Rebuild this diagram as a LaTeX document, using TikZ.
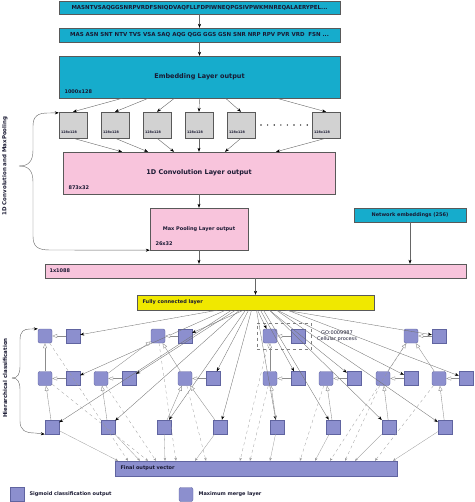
\documentclass[tikz,border=0pt]{standalone}
\usepackage{fontspec}
\setmainfont{DejaVu Sans}
\usetikzlibrary{arrows.meta,fit}

\definecolor{cyanbox}{RGB}{22,172,204}
\definecolor{pinkbox}{RGB}{248,196,220}
\definecolor{greybox}{RGB}{210,210,210}
\definecolor{fcyellow}{RGB}{240,232,0}
\definecolor{gonode}{RGB}{140,143,206}
\definecolor{goline}{RGB}{96,100,160}
\definecolor{txt}{RGB}{25,25,50}

\tikzset{
  lay/.style={draw=gray!70!black, inner sep=1pt, text=txt,
    font=\bfseries\fontsize{6.5}{7}\selectfont},
  small/.style={font=\bfseries\fontsize{5}{6}\selectfont, text=txt},
  seqtext/.style={font=\bfseries\fontsize{5.5}{6}\selectfont},
  kern/.style={draw=gray!70!black, fill=greybox, minimum width=28pt, minimum height=26pt, inner sep=0pt},
  sig/.style={draw=goline, fill=gonode, minimum size=14pt, inner sep=0pt},
  mrg/.style={sig, rounded corners=2pt},
  conn/.style={draw=black!60, line width=0.4pt, -{Stealth[length=4pt,width=3pt,color=black]}},
  fan/.style={draw=black!55, line width=0.35pt, -{Stealth[length=4pt,width=3pt,color=black]}},
  hollow/.style={draw=black!45, line width=0.35pt, -{Triangle[length=5pt,width=4pt,fill=white]}},
  toout/.style={draw=black!40, line width=0.3pt, -{Stealth[length=3pt,width=2.5pt]}},
}

\begin{document}
\begin{tikzpicture}[x=1pt,y=-1pt]
\useasboundingbox (0,0) rectangle (474,502);

%% input and embedding
\node[lay, seqtext, fill=cyanbox, minimum width=281pt, minimum height=13pt] (seq) at (199.5,7.5)
  {MASNTVSAQGGSNRPVRDFSNIQDVAQFLLFDPIWNEQPGSIVPWKMNREQALAERYPEL...};
\node[lay, seqtext, fill=cyanbox, minimum width=281pt, minimum height=14pt] (cod) at (199.5,35)
  {MAS ASN SNT NTV TVS VSA SAQ AQG QGG GGS GSN SNR NRP RPV PVR VRD\ \ FSN ...};
\node[lay, fill=cyanbox, minimum width=281pt, minimum height=42pt] (emb) at (199.5,77)
  {Embedding Layer output};
\node[small, anchor=west] at (61,92) {1000x128};
\draw[conn] (seq) -- (cod);
\draw[conn] (cod) -- (emb);

%% kernels
\foreach \k/\x in {1/73,2/115,3/157,4/199,5/241,6/326}
  \node[kern] (k\k) at (\x,125) {};
\foreach \k in {1,...,6}
  \node[font=\bfseries\fontsize{3.3}{3.5}\selectfont, text=txt, anchor=south west, inner sep=1pt]
    at ([xshift=1pt,yshift=3pt]k\k.south west) {128x128};
\foreach \i in {0,...,7}
  \fill[black!80] (261+\i*6.6,125) circle (0.8pt);
\foreach \k/\s in {1/-77,2/-51,3/-25,4/0,5/26,6/77}
  \draw[conn] ([xshift=\s pt]emb.south) -- (k\k.north);

%% convolution and pooling
\node[lay, fill=pinkbox, minimum width=272pt, minimum height=42pt] (conv) at (199,173)
  {1D Convolution Layer output};
\node[small, anchor=west] at (65,188) {873x32};
\foreach \k/\s in {1/-77,2/-51,3/-25,4/0,5/26,6/77}
  \draw[conn] (k\k.south) -- ([xshift=\s pt]conv.north);
\node[lay, fill=pinkbox, minimum width=98pt, minimum height=42pt, font=\bfseries\fontsize{5}{6}\selectfont] (pool) at (199,229)
  {Max Pooling Layer output};
\node[small, anchor=west] at (152,244) {26x32};
\node[lay, fill=cyanbox, minimum width=112pt, minimum height=14pt, font=\bfseries\fontsize{5}{6}\selectfont] (net) at (410,215)
  {Network embeddings (256)};
\node[lay, fill=pinkbox, minimum width=421pt, minimum height=14pt] (cat) at (255.5,271) {};
\node[small, anchor=west] at (46,271) {1x1088};
\node[lay, fill=fcyellow, minimum width=237pt, minimum height=15pt] (fc) at (255.5,302.5) {};
\node[small, anchor=west] at (139,302.5) {Fully connected layer};
\draw[conn] (conv) -- (pool);
\draw[conn] (pool.south) -- (pool.south |- cat.north);
\draw[conn] (net) -- (net.south |- cat.north);
\draw[conn] (cat.south -| fc.north) -- (fc);

%% left brace: convolution
\node[rotate=90, small, font=\bfseries\fontsize{5.5}{6}\selectfont] (lab1) at (5,166) {1D Convolution and MaxPooling};
\coordinate (b1) at (19,166);
\draw[conn] (b1) .. controls (28,166) and (33,162) .. (33,150) -- (33,126)
  .. controls (33,116) and (38,113) .. (48,113) -- ([yshift=-1pt]k1.north west);
\draw[conn] (b1) .. controls (28,166) and (33,170) .. (33,182) -- (33,236)
  .. controls (33,247) and (38,250) .. (50,250) -- (pool.south west);

%% hierarchy
\foreach \n/\x in {M1a/45,M1b/158,M1c/270,M1d/411}
  \node[mrg] (\n) at (\x,336) {};
\foreach \n/\x in {S1a/73,S1b/185,S1c/298,S1d/439}
  \node[sig] (\n) at (\x,336) {};
\foreach \n/\x in {M2a/45,M2b/101,M2c/185,M2d/270,M2e/326,M2f/383,M2g/439}
  \node[mrg] (\n) at (\x,378.5) {};
\foreach \n/\x in {S2a/73,S2b/129,S2c/213,S2d/298,S2e/354,S2f/411,S2g/466}
  \node[sig] (\n) at (\x,378.5) {};
\foreach \n/\x in {S3a/52,S3b/108,S3c/164,S3d/220,S3e/277,S3f/333,S3g/389,S3h/445}
  \node[sig] (\n) at (\x,427) {};
\node[fit=(M1c)(S1c), inner sep=6pt, draw=black!50, dashed, line width=0.3pt] (gobox) {};
\node[font=\fontsize{5}{5.5}\selectfont, align=center, text=txt] (golab) at (337,336) {GO:0009987\\Cellular process};

\node[sig, minimum width=282pt, minimum height=15pt] (out) at (256,468.5) {};
\node[small, anchor=west] at (117,468.5) {Final output vector};

% fully connected layer to sigmoid outputs
\foreach \t/\s in {S1a/-38,S1b/-12,M1c/2,S1d/30,S2a/-30,S2b/-20,S2c/-7,S2d/5,S2e/14,S2f/22,S2g/32,
                   S3a/-24,S3b/-16,S3c/-10,S3d/-4,S3e/1,S3f/8,S3g/14,S3h/21}
  \draw[fan] ([xshift=\s pt]fc.south) -- (\t);

% sigmoid to maximum merge
\foreach \a/\b in {S1a/M1a,S1b/M1b,S1c/M1c,S1d/M1d,S2a/M2a,S2b/M2b,S2c/M2c,S2d/M2d,S2e/M2e,S2f/M2f,S2g/M2g}
  \draw[hollow] (\a) -- (\b);
\foreach \a/\b in {M2a/M1a,M2b/M1b,M2c/M1b,M2d/M1c,M2f/M1d,M2g/M1d,
                   S3a/M2a,S3b/M2b,S3c/M2c,S3d/M2c,S3e/M2d,S3f/M2e,S3g/M2f,S3h/M2g}
  \draw[hollow] (\a) -- (\b);

% everything to the output vector
\foreach \a/\s in {S3a/-138,S3b/-116,S3c/-91,S3d/-61,S3e/14,S3f/59,S3g/99,S3h/137}
  \draw[toout] (\a) -- ([xshift=\s pt]out.north);
\foreach \a/\s in {M1a/-128,M2a/-108,M2b/-100,M1b/-80,M2c/-50,M1c/-16,M2d/-6,M2e/44,M1d/74,M2f/89,M2g/119}
  \draw[toout, dashed] (\a) -- ([xshift=\s pt]out.north);

%% left brace: hierarchy
\node[rotate=90, small, font=\bfseries\fontsize{5.5}{6}\selectfont] (lab2) at (5,378) {Hierarchical classification};
\coordinate (b2) at (12,378);
\draw[conn] (b2) .. controls (18,378) and (20,374) .. (20,366) -- (20,340)
  .. controls (20,331) and (24,329) .. (30,329) -- (M1a.north west);
\draw[conn] (b2) .. controls (18,378) and (20,382) .. (20,390) -- (20,421)
  .. controls (20,430) and (25,433) .. (35,433) -- (S3a.south west);

%% legend
\node[sig] (leg1) at (17,494.5) {};
\node[small, anchor=west] at (26,494.5) {Sigmoid classification output};
\node[mrg] (leg2) at (186,494.5) {};
\node[small, anchor=west] at (195,494.5) {Maximum merge layer};
\end{tikzpicture}
\end{document}
